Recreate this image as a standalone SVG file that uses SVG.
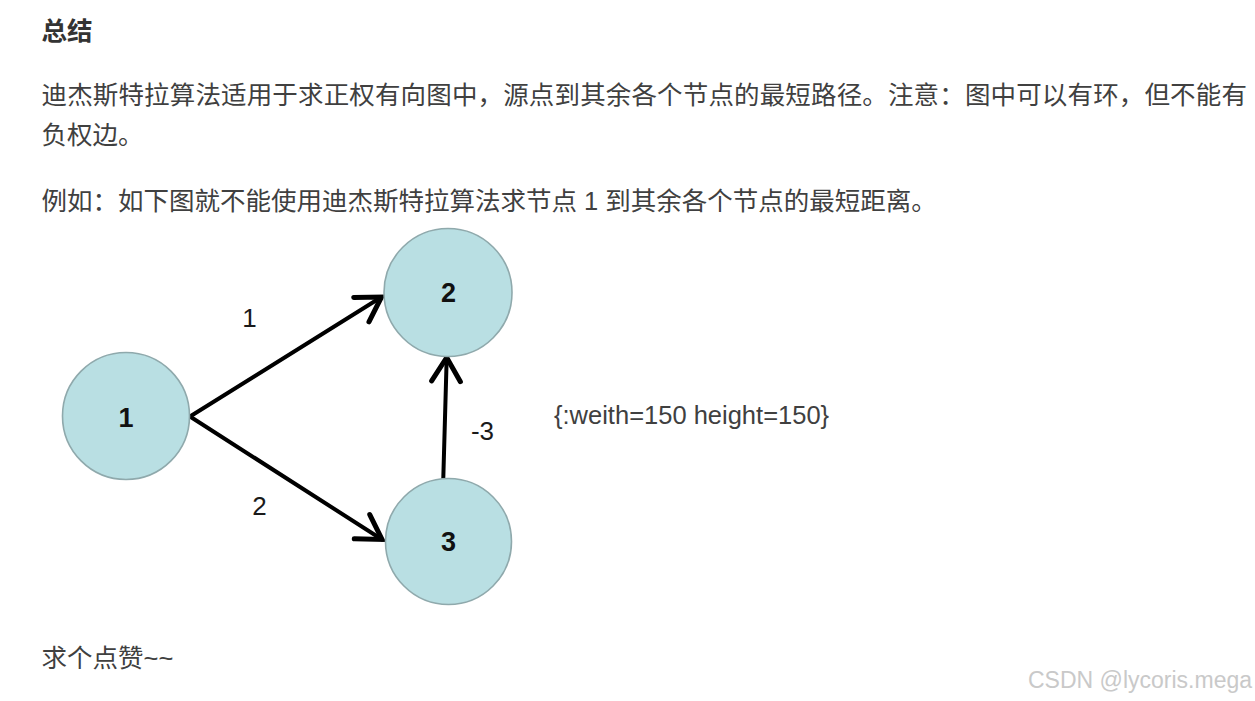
<svg xmlns="http://www.w3.org/2000/svg" width="1255" height="701" viewBox="0 0 1255 701">
  <style>
    .body { font-family: "Liberation Sans", "Noto Sans CJK SC", sans-serif; font-size: 25.5px; fill: #404040; }
    .title { font-family: "Liberation Sans", "Noto Sans CJK SC", sans-serif; font-size: 25.5px; font-weight: bold; fill: #333333; }
    .node circle { fill: #b9dfe3; stroke: #8fa9ac; stroke-width: 1.6; }
    .nlabel { font-family: "Liberation Sans", Arial, sans-serif; font-size: 27px; font-weight: bold; fill: #111111; text-anchor: middle; }
    .elabel { font-family: "Liberation Sans", Arial, sans-serif; font-size: 26px; fill: #1a1a1a; text-anchor: middle; }
    .edge { stroke: #000000; stroke-width: 4; fill: none; stroke-linecap: round; }
    .wm { font-family: "Liberation Sans", Arial, sans-serif; font-size: 23px; fill: #c9c9c9; }
  </style>
  <defs>
    <marker id="arrow" markerUnits="userSpaceOnUse" markerWidth="40" markerHeight="40" refX="0" refY="0" viewBox="-24 -16 30 32" orient="auto" overflow="visible">
      <path d="M -19 -11.5 L 0 0 L -19 11.5" fill="none" stroke="#000000" stroke-width="4" stroke-linecap="round" stroke-linejoin="miter"/>
    </marker>
  </defs>
  <rect width="1255" height="701" fill="#ffffff"/>

  <text class="title" x="41.5" y="40">总结</text>
  <text class="body" x="41.5" y="104" letter-spacing="0.15">迪杰斯特拉算法适用于求正权有向图中，源点到其余各个节点的最短路径。注意：图中可以有环，但不能有</text>
  <text class="body" x="41.5" y="144">负权边。</text>
  <text class="body" x="41.5" y="210">例如：如下图就不能使用迪杰斯特拉算法求节点 1 到其余各个节点的最短距离。</text>

  <g id="connectors">
    <line class="edge" x1="190" y1="416.5" x2="381.5" y2="297" marker-end="url(#arrow)"/>
    <line class="edge" x1="190" y1="416.5" x2="382" y2="539.5" marker-end="url(#arrow)"/>
    <line class="edge" x1="443.3" y1="478" x2="446.7" y2="357.5" marker-end="url(#arrow)"/>
    <text class="elabel" x="249.5" y="327">1</text>
    <text class="elabel" x="259.5" y="515">2</text>
    <text class="elabel" x="482.5" y="440">-3</text>
  </g>

  <g id="node-1" class="node">
    <circle cx="126" cy="416" r="63.5"/>
    <text class="nlabel" x="126" y="427">1</text>
  </g>
  <g id="node-2" class="node">
    <circle cx="448" cy="292.5" r="64"/>
    <text class="nlabel" x="448.5" y="302">2</text>
  </g>
  <g id="node-3" class="node">
    <circle cx="448.5" cy="541.5" r="63"/>
    <text class="nlabel" x="448.5" y="550.5">3</text>
  </g>

  <text class="body" x="554" y="424">{:weith=150 height=150}</text>
  <text class="body" x="41.5" y="667">求个点赞~~</text>
  <text class="wm" x="1028" y="688">CSDN @lycoris.mega</text>
</svg>
